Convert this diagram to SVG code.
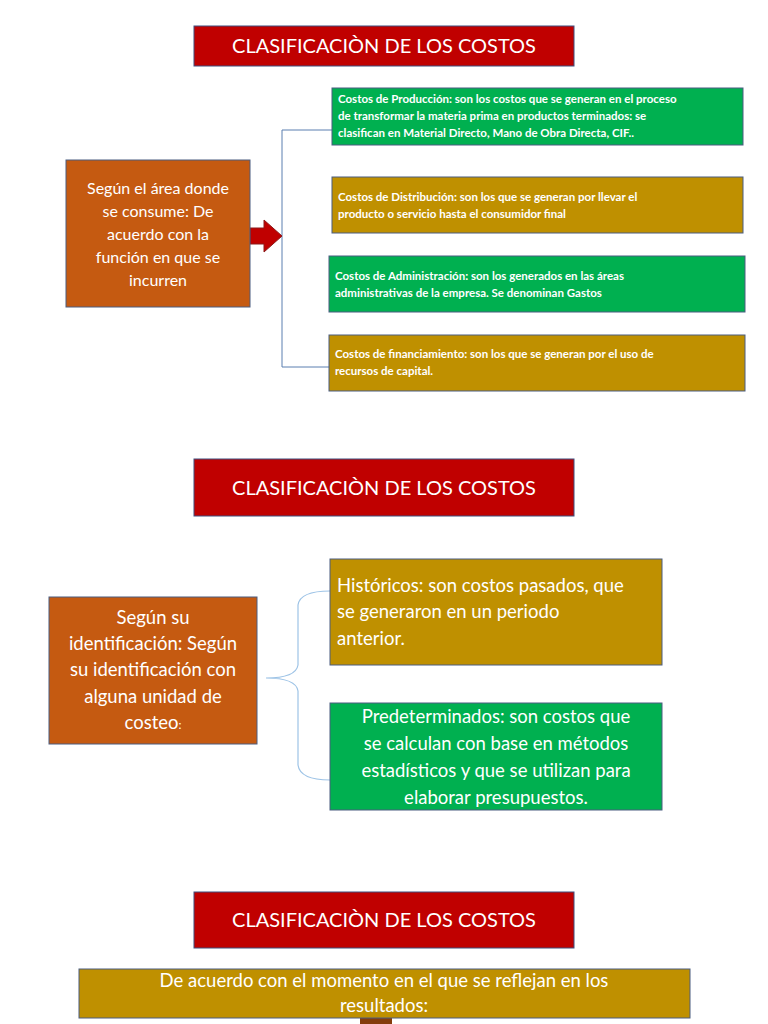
<svg xmlns="http://www.w3.org/2000/svg" width="768" height="1024" viewBox="0 0 768 1024">
<style>
text{font-family:Lato,"Open Sans","Liberation Sans",sans-serif;fill:#fff}
.t{font-size:20px;text-anchor:middle}
.s{font-size:11.5px;font-weight:bold}
.m{font-size:16px;text-anchor:middle}
.l{font-size:18.5px}
.c{text-anchor:middle}
.red{fill:#C00000;stroke:#3F4F7F;stroke-width:1}
.org{fill:#C55A11;stroke:#4A5C80;stroke-width:1}
.grn{fill:#00B050;stroke:#4A5C80;stroke-width:1}
.gld{fill:#BF9000;stroke:#4A5C80;stroke-width:1}
</style>
<rect width="768" height="1024" fill="#fff"/>
<g id="connectors" fill="none">
<path d="M332,130 H282 V367 H329" stroke="#5B7FB0" stroke-width="1"/>
<path d="M250,228 H264 V220 L282,236 L264,252 V244 H250 Z" fill="#C00000" stroke="#8B1A1A" stroke-width="1"/>
<path d="M330,591 Q300,591 298,605 L298,665 Q296,678 266,678 Q296,678 298,691 L298,765 Q300,780 330,780" stroke="#9DC3E6" stroke-width="1.2"/>
<rect x="360" y="1018" width="32" height="6" fill="#843C0C"/>
</g>
<g id="title1"><rect class="red" x="194" y="26" width="380" height="40"/><text class="t" x="384" y="53">CLASIFICACIÒN DE LOS COSTOS</text></g>
<g id="area"><rect class="org" x="66" y="160" width="184" height="147"/>
<text class="m"><tspan x="158" y="194">Según el área donde</tspan><tspan x="158" y="217">se consume: De</tspan><tspan x="158" y="240">acuerdo con la</tspan><tspan x="158" y="263">función en que se</tspan><tspan x="158" y="286">incurren</tspan></text></g>
<g id="produccion"><rect class="grn" x="332" y="88" width="411" height="57"/>
<text class="s"><tspan x="338" y="103">Costos de Producción: son los costos que se generan en el proceso</tspan><tspan x="338" y="120">de transformar la materia prima en productos terminados: se</tspan><tspan x="338" y="137">clasifican en Material Directo, Mano de Obra Directa, CIF..</tspan></text></g>
<g id="distribucion"><rect class="gld" x="332" y="177" width="411" height="56"/>
<text class="s"><tspan x="338" y="201">Costos de Distribución: son los que se generan por llevar el</tspan><tspan x="338" y="218">producto o servicio hasta el consumidor final</tspan></text></g>
<g id="administracion"><rect class="grn" x="329" y="256" width="416" height="56"/>
<text class="s"><tspan x="335" y="280">Costos de Administración: son los generados en las áreas</tspan><tspan x="335" y="297">administrativas de la empresa. Se denominan Gastos</tspan></text></g>
<g id="financiamiento"><rect class="gld" x="329" y="335" width="416" height="56"/>
<text class="s"><tspan x="335" y="358">Costos de financiamiento: son los que se generan por el uso de</tspan><tspan x="335" y="375">recursos de capital.</tspan></text></g>
<g id="title2"><rect class="red" x="194" y="459" width="380" height="57"/><text class="t" x="384" y="495">CLASIFICACIÒN DE LOS COSTOS</text></g>
<g id="identificacion"><rect class="org" x="49" y="597" width="208" height="147"/>
<text class="l c"><tspan x="153" y="624">Según su</tspan><tspan x="153" y="650">identificación: Según</tspan><tspan x="153" y="676">su identificación con</tspan><tspan x="153" y="703">alguna unidad de</tspan><tspan x="153" y="729">costeo<tspan font-size="12">:</tspan></tspan></text></g>
<g id="historicos"><rect class="gld" x="330" y="559" width="332" height="106"/>
<text class="l"><tspan x="337" y="592">Históricos: son costos pasados, que</tspan><tspan x="337" y="618">se generaron en un periodo</tspan><tspan x="337" y="645">anterior.</tspan></text></g>
<g id="predeterminados"><rect class="grn" x="330" y="703" width="332" height="107"/>
<text class="l c"><tspan x="496" y="723">Predeterminados: son costos que</tspan><tspan x="496" y="750">se calculan con base en métodos</tspan><tspan x="496" y="777">estadísticos y que se utilizan para</tspan><tspan x="496" y="804">elaborar presupuestos.</tspan></text></g>
<g id="title3"><rect class="red" x="194" y="892" width="380" height="56"/><text class="t" x="384" y="927">CLASIFICACIÒN DE LOS COSTOS</text></g>
<g id="momento"><rect class="gld" x="79" y="969" width="611" height="49"/>
<text class="l c"><tspan x="384" y="987">De acuerdo con el momento en el que se reflejan en los</tspan><tspan x="384" y="1012">resultados:</tspan></text></g>
</svg>
